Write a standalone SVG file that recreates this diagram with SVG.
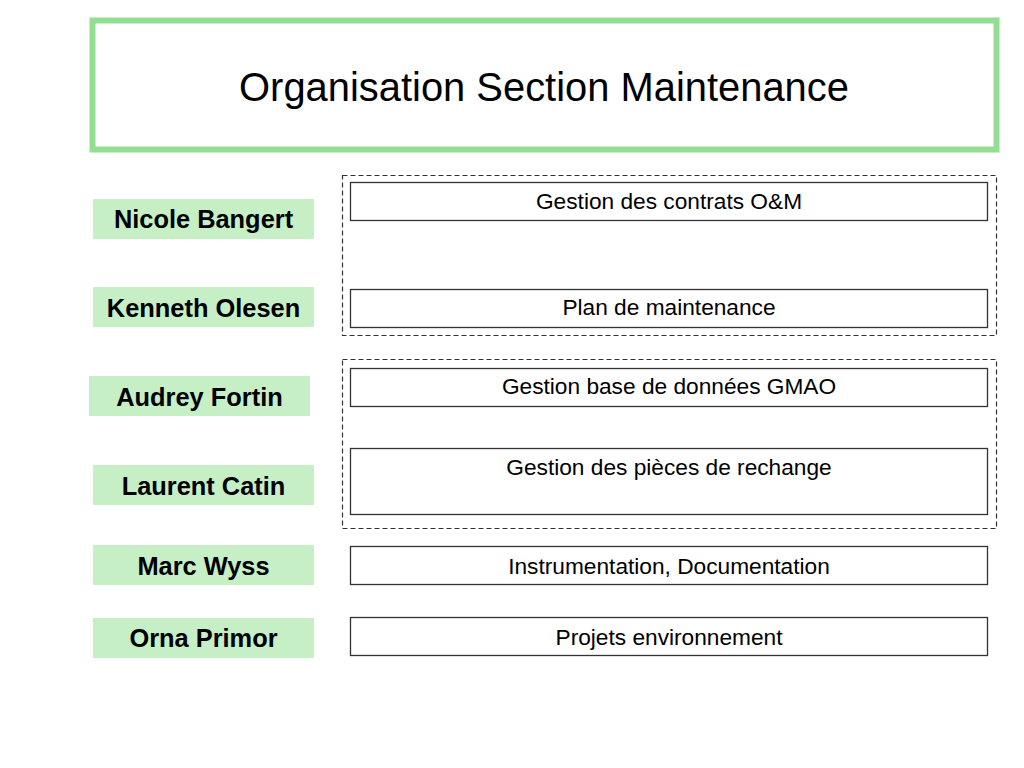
<svg xmlns="http://www.w3.org/2000/svg" width="1024" height="768" viewBox="0 0 1024 768">
<style>
.name rect{fill:#c6efc6;stroke:none}
.name text{font-family:"Liberation Sans",Arial,sans-serif;font-weight:bold;font-size:25.4px;text-anchor:middle;fill:#000}
.task rect{fill:#fff;stroke:#333;stroke-width:1.3}
.task text{font-family:"Liberation Sans",Arial,sans-serif;font-size:22.7px;text-anchor:middle;fill:#000}
.grp{fill:none;stroke:#333;stroke-width:1.2;stroke-dasharray:5 3}
</style>
<rect width="1024" height="768" fill="#fff"/>
<g id="title">
<rect x="92.5" y="20.5" width="904" height="129" fill="#fff" stroke="#93de93" stroke-width="6"/>
<text x="544" y="101" font-family="'Liberation Sans',Arial,sans-serif" font-size="39.9" text-anchor="middle">Organisation Section Maintenance</text>
</g>
<g id="groups">
<rect class="grp" x="342.5" y="175.5" width="654" height="160"/>
<rect class="grp" x="342.5" y="359.5" width="654" height="169"/>
</g>
<g id="nicole" class="name"><rect x="93" y="199" width="221" height="40"/><text x="203.5" y="228">Nicole Bangert</text></g>
<g id="kenneth" class="name"><rect x="93" y="287" width="221" height="40"/><text x="203.5" y="317">Kenneth Olesen</text></g>
<g id="audrey" class="name"><rect x="89" y="376" width="221" height="40"/><text x="199.5" y="406">Audrey Fortin</text></g>
<g id="laurent" class="name"><rect x="93" y="465" width="221" height="40"/><text x="203.5" y="495">Laurent Catin</text></g>
<g id="marc" class="name"><rect x="93" y="545" width="221" height="40"/><text x="203.5" y="575">Marc Wyss</text></g>
<g id="orna" class="name"><rect x="93" y="618" width="221" height="40"/><text x="203.5" y="647">Orna Primor</text></g>
<g id="t1" class="task"><rect x="350.5" y="182.5" width="637" height="38"/><text x="669" y="209">Gestion des contrats O&amp;M</text></g>
<g id="t2" class="task"><rect x="350.5" y="289.5" width="637" height="38"/><text x="669" y="315">Plan de maintenance</text></g>
<g id="t3" class="task"><rect x="350.5" y="368.5" width="637" height="38"/><text x="669" y="394">Gestion base de données GMAO</text></g>
<g id="t4" class="task"><rect x="350.5" y="448.5" width="637" height="66"/><text x="669" y="475">Gestion des pièces de rechange</text></g>
<g id="t5" class="task"><rect x="350.5" y="546.5" width="637" height="38"/><text x="669" y="574">Instrumentation, Documentation</text></g>
<g id="t6" class="task"><rect x="350.5" y="617.5" width="637" height="38"/><text x="669" y="645">Projets environnement</text></g>
<g id="connectors"></g>
</svg>
